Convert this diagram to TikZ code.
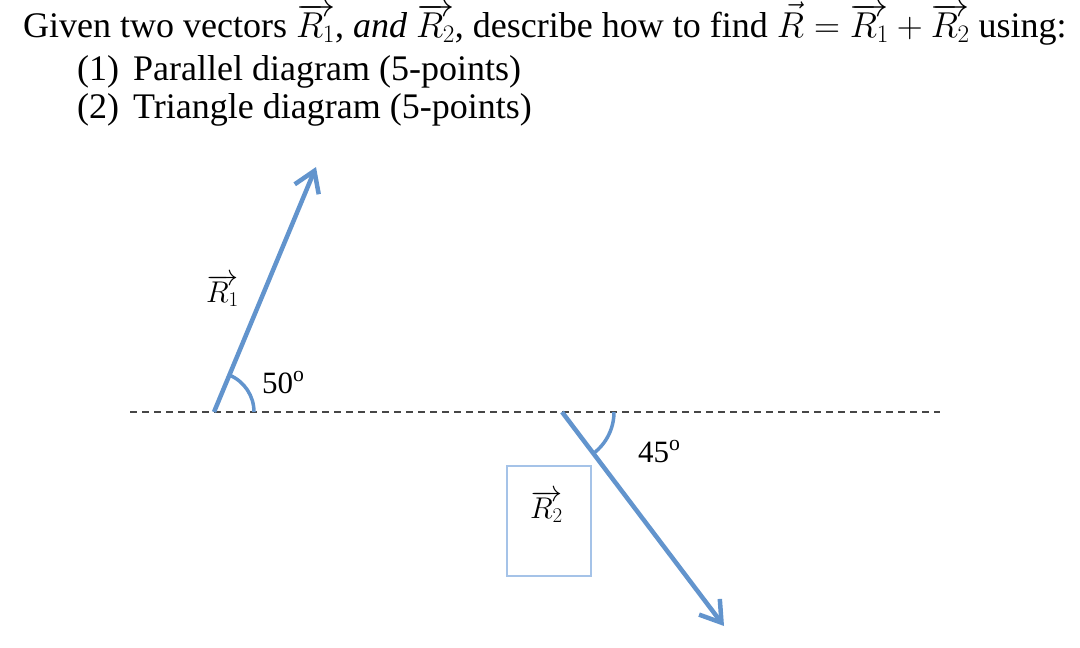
\RequirePackage{fix-cm}
\documentclass[tikz,border=0pt]{standalone}
\usepackage{fontspec}
\setmainfont{Liberation Serif}
\usetikzlibrary{arrows.meta}
\definecolor{vecblue}{RGB}{98,148,205}
\definecolor{boxblue}{RGB}{165,195,232}
\definecolor{dashgray}{RGB}{70,70,70}
\newcommand{\myvec}[1]{\overrightarrow{\raisebox{0pt}[0.6em][0pt]{$R_{#1}$}}}
\tikzset{
  vec/.style={line width=4.5pt, draw=vecblue, -{Straight Barb[length=20pt,width=26pt,line width=4.5pt]}},
  anglearc/.style={line width=3.5pt, draw=vecblue},
  baseline/.style={dash pattern=on 7pt off 5pt, line width=2.2pt, draw=dashgray},
  titletxt/.style={anchor=base west, inner sep=0pt, font=\fontsize{36}{42}\selectfont},
  lbl/.style={anchor=base west, inner sep=0pt, font=\fontsize{31}{36}\selectfont},
  vlbl/.style={anchor=base west, inner sep=0pt, font=\fontsize{30}{34}\selectfont},
  lblbox/.style={draw=boxblue, line width=1.2pt, minimum width=84pt, minimum height=110pt, inner sep=0pt}
}
\begin{document}
\begin{tikzpicture}[x=1pt,y=-1pt]
\useasboundingbox (0,0) rectangle (1080,648);
\node[titletxt] (t1) at (23,37) {Given two vectors $\myvec{1}$, \textit{and} $\myvec{2}$, describe how to find $\vec{R}=\myvec{1}+\myvec{2}$ using:};
\node[titletxt] (t2) at (77,80) {(1)\hspace{14pt}Parallel diagram (5-points)};
\node[titletxt] (t3) at (77,118) {(2)\hspace{14pt}Triangle diagram (5-points)};
\coordinate (L) at (130,412);
\coordinate (R) at (940,412);
\coordinate (A) at (214,412);
\coordinate (B) at (316,167);
\coordinate (C) at (562,412);
\coordinate (D) at (724,626);
\draw[baseline] (L) -- (R);
\node[lblbox] (box) at (549,521) {};
\draw[vec] (A) -- (B);
\draw[vec] (C) -- (D);
\draw[anglearc] (A) ++(40,0) arc[start angle=0, end angle=-67, radius=40];
\draw[anglearc] (C) ++(52,0) arc[start angle=0, end angle=53, radius=52];
\node[vlbl] (r1) at (206,302) {$\myvec{1}$};
\node[vlbl] (r2) at (530,518) {$\myvec{2}$};
\node[lbl] (a50) at (262,393) {50\textsuperscript{o}};
\node[lbl] (a45) at (638,462) {45\textsuperscript{o}};
\end{tikzpicture}
\end{document}
